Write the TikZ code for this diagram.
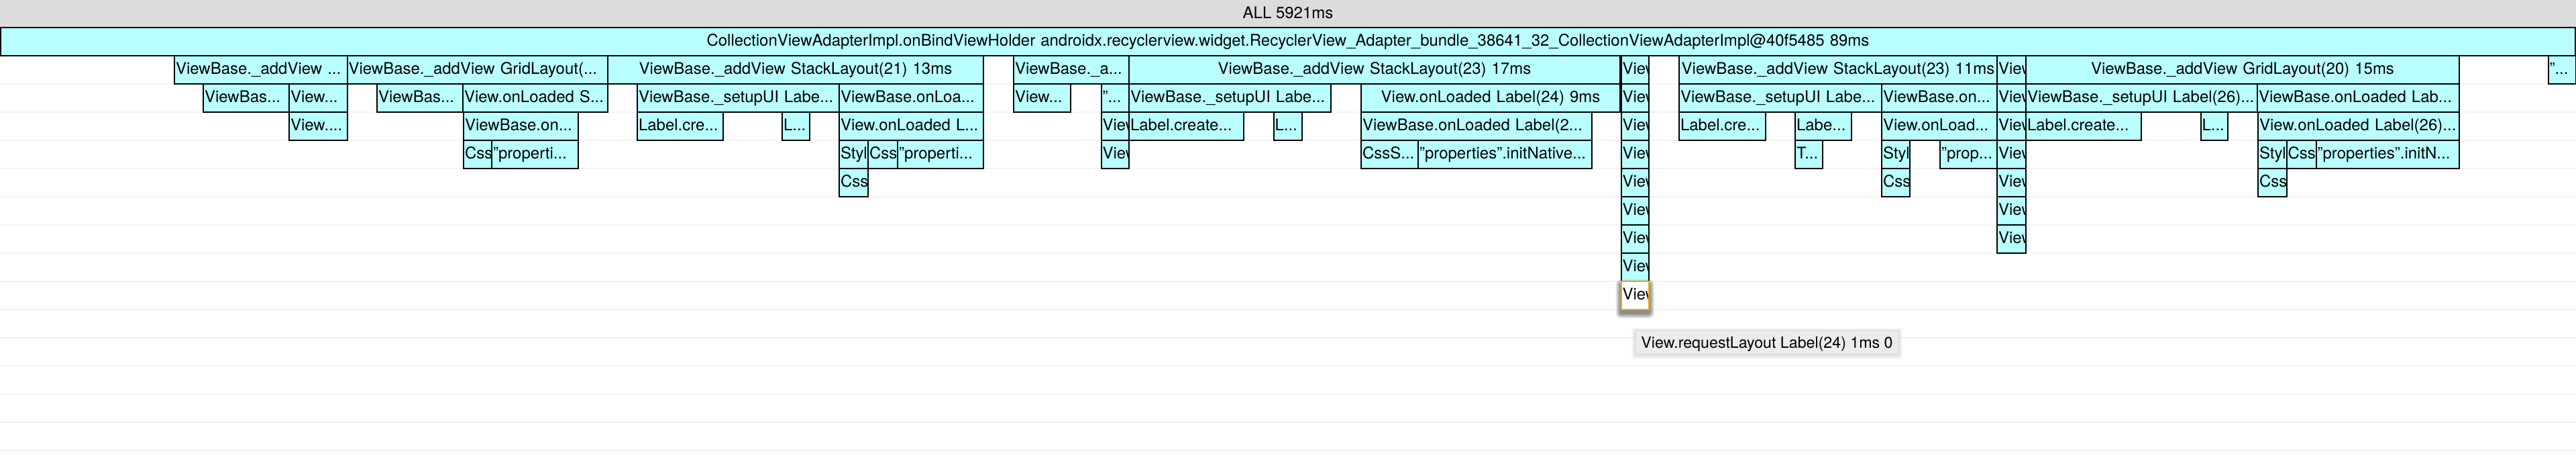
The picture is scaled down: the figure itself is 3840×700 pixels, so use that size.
\documentclass[tikz,border=0pt]{standalone}
\usepackage{fontspec}
\setmainfont{TeX Gyre Heros}

\definecolor{slicefill}{HTML}{B9FFFF}
\definecolor{headfill}{HTML}{DCDCDC}
\definecolor{rowline}{HTML}{F3F3F3}
\definecolor{pickline}{HTML}{FFA500}
\definecolor{tipfill}{HTML}{ECECEC}
\definecolor{tipline}{HTML}{DADADA}

\tikzset{
    slice/.style={draw, line width=2pt, fill=slicefill, anchor=north west, outer sep=0pt,
        inner xsep=2pt, inner ysep=0pt, minimum height=42pt, text height=17.7pt, text depth=4.3pt,
        font=\fontsize{24pt}{26pt}\selectfont, align=left},
    cutslice/.style={slice, path picture={
        \node[draw=none, fill=none, anchor=west, inner xsep=2pt, inner ysep=0pt, outer sep=0pt,
            text height=17.7pt, text depth=4.3pt, font=\fontsize{24pt}{26pt}\selectfont]
            at (path picture bounding box.west) {#1};}},
}

\begin{document}
\begin{tikzpicture}[x=1pt, y=-1pt]
        \useasboundingbox (0, 0) rectangle (3840, 700);
        \fill[white] (0, 0) rectangle (3840, 700);

        \foreach \y in {125, 167, ..., 671}
            \draw[rowline, line width=2pt] (0, \y) -- (3840, \y);

        \node[fill=headfill, anchor=north west, outer sep=0pt, inner sep=0pt, minimum width=3840pt, minimum height=41pt,
            text height=17.7pt, text depth=4.3pt, font=\fontsize{24pt}{26pt}\selectfont] (all) at (0, 0) {ALL 5921ms};

        \node[slice, text width=3834pt, align=center] (r) at (1, 41) {CollectionViewAdapterImpl.onBindViewHolder androidx.recyclerview.widget.RecyclerView\_Adapter\_bundle\_38641\_32\_CollectionViewAdapterImpl@40f5485 89ms};

        \node[slice, text width=253.5pt] (v0) at (260, 83) {ViewBase.\_addView ...};
        \node[slice, text width=384.5pt] (v1) at (517.5, 83) {ViewBase.\_addView GridLayout(...};
        \node[slice, text width=556pt, align=center] (v2) at (906, 83) {ViewBase.\_addView StackLayout(21) 13ms};
        \node[slice, text width=168pt] (v3) at (1511, 83) {ViewBase.\_a...};
        \node[slice, text width=728pt, align=center] (v4) at (1683, 83) {ViewBase.\_addView StackLayout(23) 17ms};
        \node[cutslice=View, minimum width=41.5pt] (v5) at (2416.5, 83) {};
        \node[slice, text width=470pt, align=center] (v6) at (2503, 83) {ViewBase.\_addView StackLayout(23) 11ms};
        \node[cutslice=View, minimum width=43pt] (v7) at (2977, 83) {};
        \node[slice, text width=642pt, align=center] (v8) at (3020, 83) {ViewBase.\_addView GridLayout(20) 15ms};
        \node[slice, text width=37.5pt] (v9) at (3798.5, 83) {"...};

        \node[slice, text width=124pt] (v00) at (303, 125) {ViewBas...};
        \node[slice, text width=82.5pt] (v01) at (431, 125) {View...};
        \node[slice, text width=124pt] (v10) at (562, 125) {ViewBas...};
        \node[slice, text width=212pt] (v11) at (690, 125) {View.onLoaded S...};
        \node[slice, text width=297pt] (v20) at (950, 125) {ViewBase.\_setupUI Labe...};
        \node[slice, text width=211pt] (v21) at (1251, 125) {ViewBase.onLoa...};
        \node[slice, text width=80.5pt] (v30) at (1511, 125) {View...};
        \node[slice, text width=37.5pt] (v31) at (1641.5, 125) {"...};
        \node[slice, text width=297pt] (v40) at (1683, 125) {ViewBase.\_setupUI Labe...};
        \node[slice, text width=382pt, align=center] (v41) at (2029, 125) {View.onLoaded Label(24) 9ms};
        \node[cutslice=View, minimum width=41.5pt] (v50) at (2416.5, 125) {};
        \node[slice, text width=298pt] (v60) at (2503, 125) {ViewBase.\_setupUI Labe...};
        \node[slice, text width=168pt] (v61) at (2805, 125) {ViewBase.on...};
        \node[cutslice=View, minimum width=43pt] (v70) at (2977, 125) {};
        \node[slice, text width=341pt] (v80) at (3020, 125) {ViewBase.\_setupUI Label(26)...};
        \node[slice, text width=297pt] (v81) at (3365, 125) {ViewBase.onLoaded Lab...};

        \node[slice, text width=82.5pt] (v010) at (431, 167) {View....};
        \node[slice, text width=167pt] (v110) at (691, 167) {ViewBase.on...};
        \node[slice, text width=123.5pt] (v200) at (950, 167) {Label.cre...};
        \node[slice, text width=37pt] (v201) at (1166, 167) {L...};
        \node[slice, text width=211pt] (v210) at (1251, 167) {View.onLoaded L...};
        \node[cutslice=View, minimum width=41.5pt] (v310) at (1641.5, 167) {};
        \node[slice, text width=167pt] (v400) at (1683, 167) {Label.create...};
        \node[slice, text width=38.5pt] (v401) at (1898.5, 167) {L...};
        \node[slice, text width=339.5pt] (v410) at (2029, 167) {ViewBase.onLoaded Label(2...};
        \node[cutslice=View, minimum width=41.5pt] (v500) at (2416.5, 167) {};
        \node[slice, text width=124.5pt] (v600) at (2503, 167) {Label.cre...};
        \node[slice, text width=80pt] (v601) at (2676, 167) {Labe...};
        \node[slice, text width=168pt] (v610) at (2805, 167) {View.onLoad...};
        \node[cutslice=View, minimum width=43pt] (v700) at (2977, 167) {};
        \node[slice, text width=168pt] (v800) at (3020, 167) {Label.create...};
        \node[slice, text width=36.5pt] (v801) at (3280.5, 167) {L...};
        \node[slice, text width=296pt] (v810) at (3366, 167) {View.onLoaded Label(26)...};

        \node[cutslice=Css, minimum width=42pt] (v1100) at (691, 209) {};
        \node[slice, text width=125pt] (v1101) at (733, 209) {"properti...};
        \node[cutslice=Styl, minimum width=43pt] (v2100) at (1251, 209) {};
        \node[cutslice=Css, minimum width=44pt] (v2101) at (1294, 209) {};
        \node[slice, text width=124pt] (v2102) at (1338, 209) {"properti...};
        \node[cutslice=View, minimum width=41.5pt] (v3100) at (1641.5, 209) {};
        \node[slice, text width=81pt] (v4100) at (2029, 209) {CssS...};
        \node[slice, text width=254.5pt] (v4101) at (2114, 209) {"properties".initNative...};
        \node[cutslice=View, minimum width=41.5pt] (v5000) at (2416.5, 209) {};
        \node[slice, text width=37pt] (v6010) at (2676, 209) {T...};
        \node[cutslice=Styl, minimum width=42pt] (v6100) at (2805, 209) {};
        \node[slice, text width=81pt] (v6101) at (2892, 209) {"prop...};
        \node[cutslice=View, minimum width=43pt] (v7000) at (2977, 209) {};
        \node[cutslice=Styl, minimum width=42.5pt] (v8100) at (3366, 209) {};
        \node[cutslice=Css, minimum width=44pt] (v8101) at (3408.5, 209) {};
        \node[slice, text width=209.5pt] (v8102) at (3452.5, 209) {"properties".initN...};

        \node[cutslice=Css, minimum width=43pt] (v21000) at (1251, 251) {};
        \node[cutslice=View, minimum width=41.5pt] (v50000) at (2416.5, 251) {};
        \node[cutslice=Css, minimum width=42pt] (v61000) at (2805, 251) {};
        \node[cutslice=View, minimum width=43pt] (v70000) at (2977, 251) {};
        \node[cutslice=Css, minimum width=42.5pt] (v81000) at (3366, 251) {};

        \node[cutslice=View, minimum width=41.5pt] (v500000) at (2416.5, 293) {};
        \node[cutslice=View, minimum width=43pt] (v700000) at (2977, 293) {};

        \node[cutslice=View, minimum width=41.5pt] (v5000000) at (2416.5, 335) {};
        \node[cutslice=View, minimum width=43pt] (v7000000) at (2977, 335) {};

        \node[cutslice=View, minimum width=41.5pt] (v50000000) at (2416.5, 377) {};

        % shadow under the picked slice
        \foreach \s in {1, ..., 8}
            \fill[black, opacity=0.07, rounded corners=\s pt] (2416.5-\s, 424-\s) rectangle (2458+\s, 466+\s);
        \node[cutslice=View, minimum width=41.5pt, fill=white, draw=pickline] (v500000000) at (2416.5, 419) {};

        % tooltip
        \foreach \s in {1, ..., 6}
            \fill[black, opacity=0.018, rounded corners=3pt] (2438-\s, 494-\s) rectangle (2830+\s, 529+\s);
        \node[draw=tipline, line width=1pt, fill=tipfill, rounded corners=1.5pt, inner sep=0pt, minimum width=392pt, minimum height=35pt,
            text height=17pt, text depth=0pt, font=\fontsize{23.2pt}{26pt}\selectfont] (tip) at (2634, 509.5) {View.requestLayout Label(24) 1ms 0};
\end{tikzpicture}
\end{document}
